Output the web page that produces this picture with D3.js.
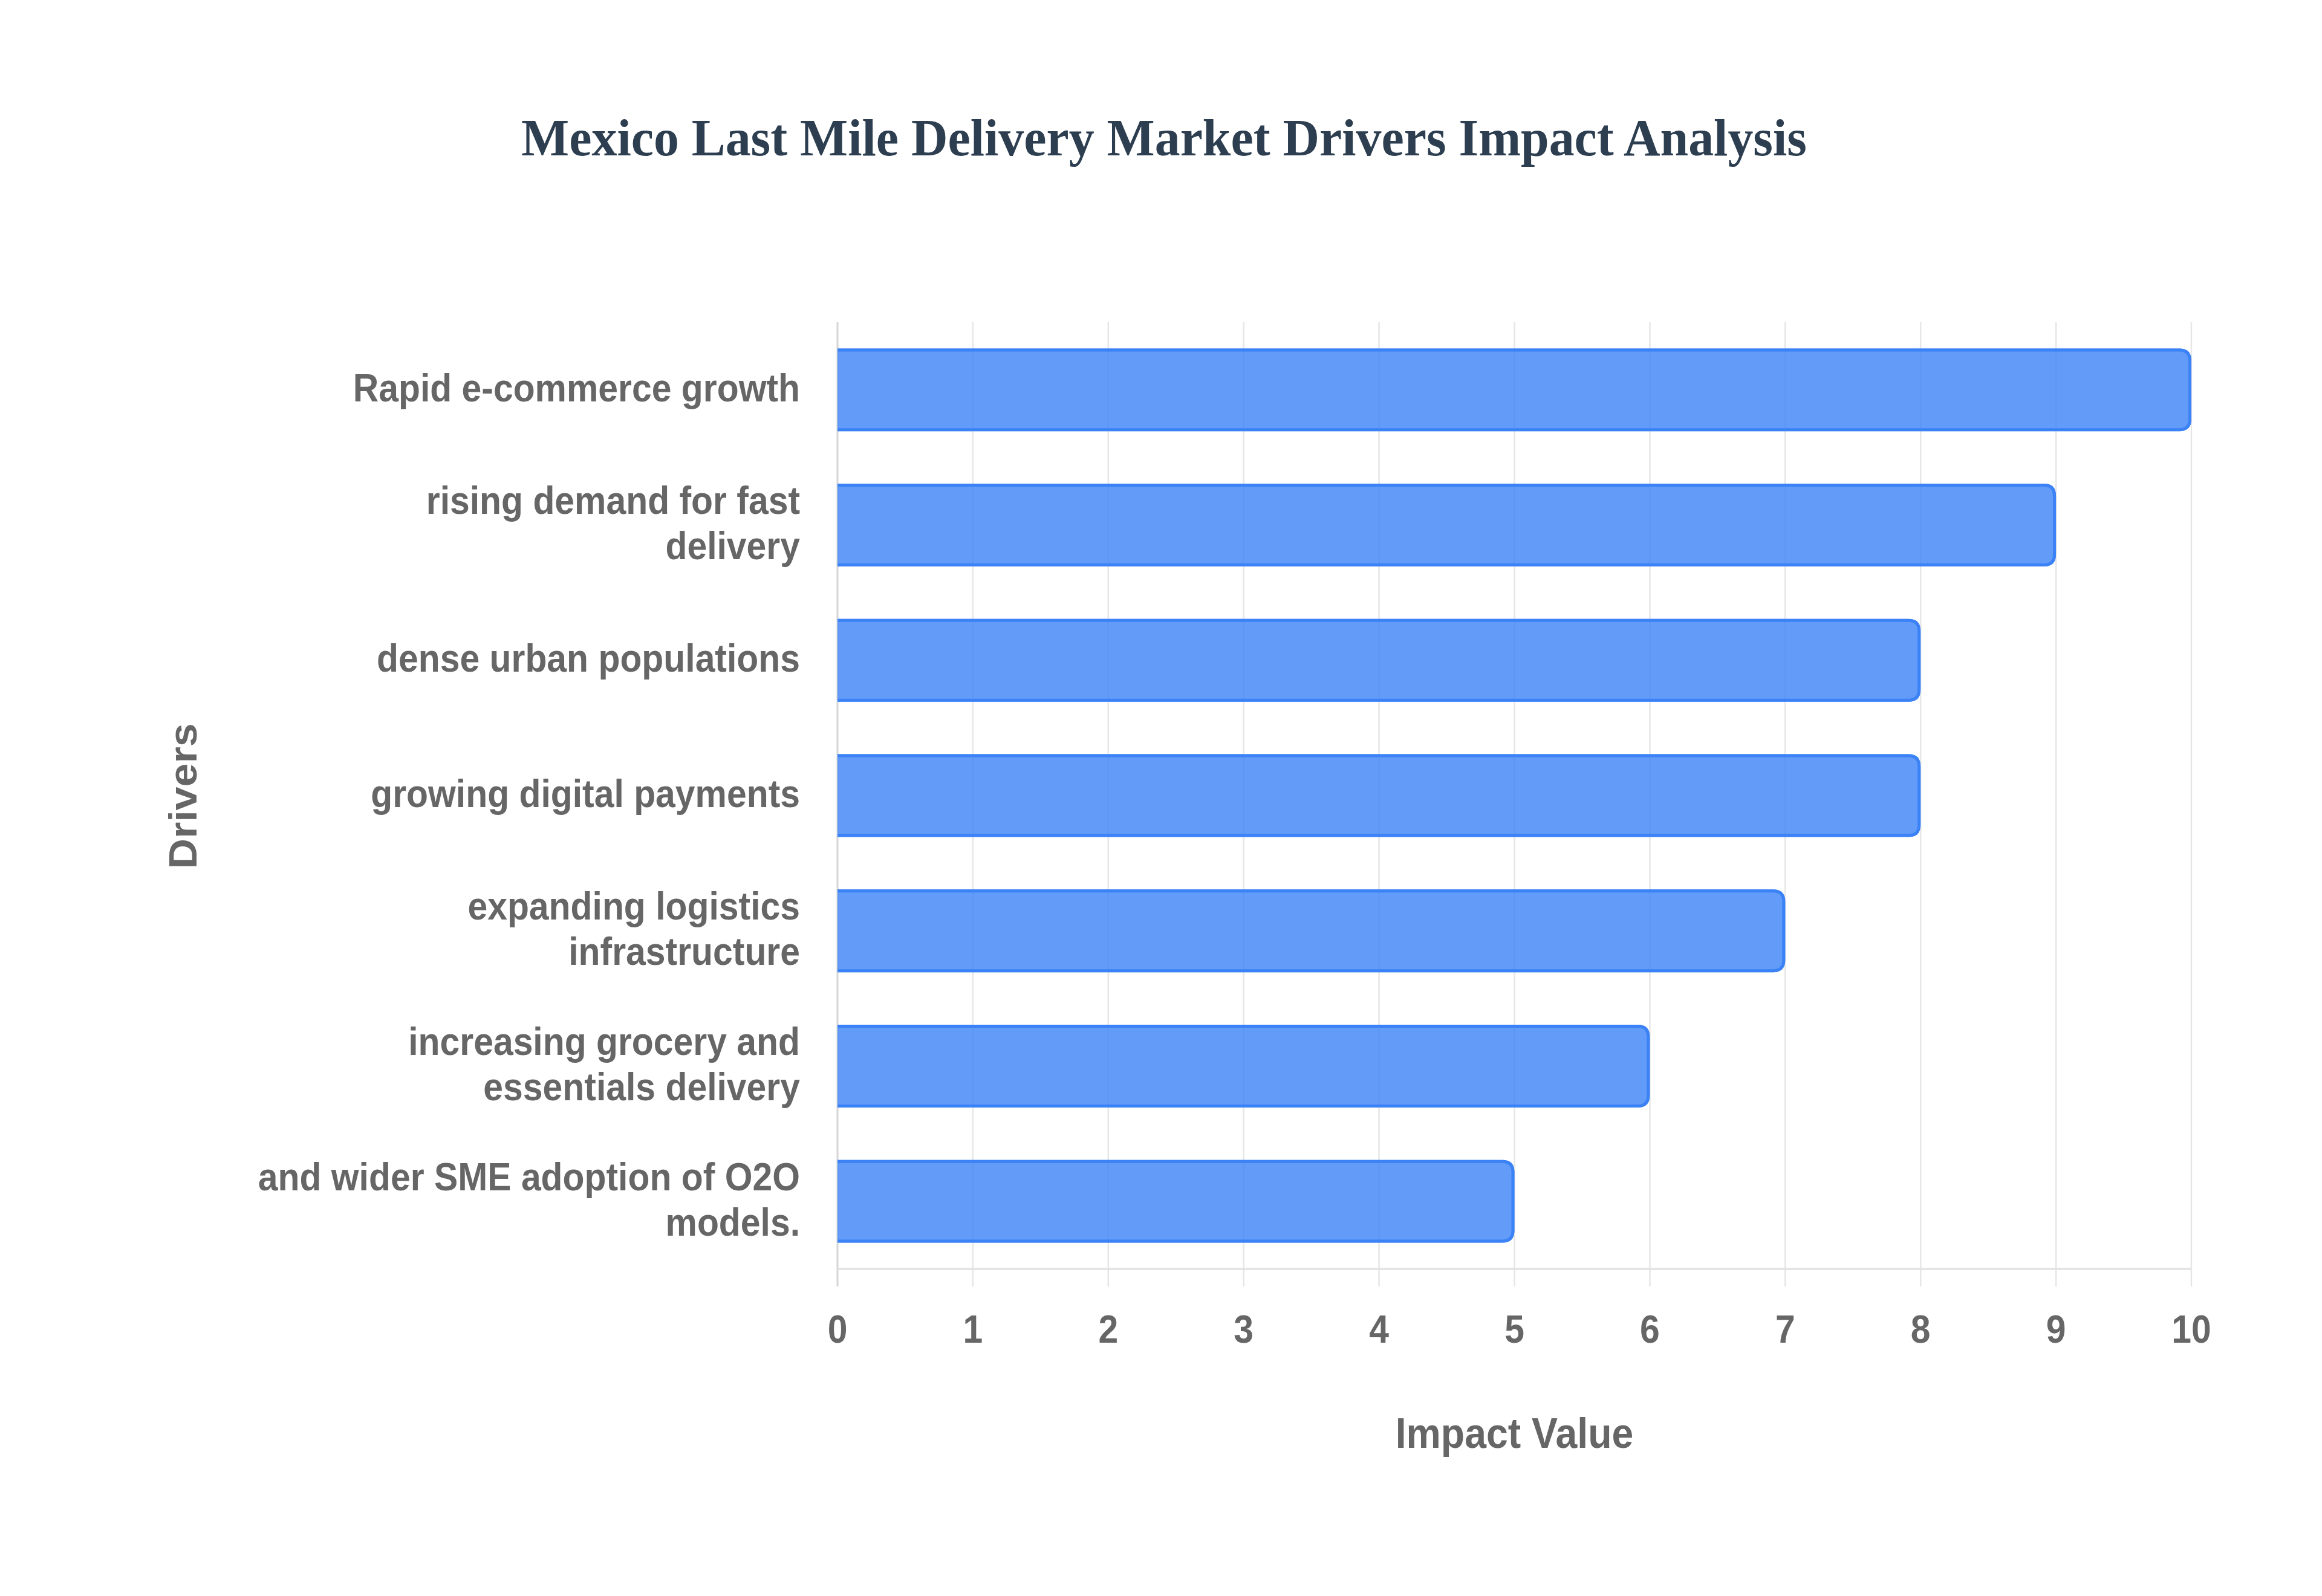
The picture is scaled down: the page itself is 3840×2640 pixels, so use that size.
<!DOCTYPE html>
<html>
<head>
<meta charset="utf-8">
<script src="https://cdn.jsdelivr.net/npm/d3@7/dist/d3.min.js"></script>
<style>
  html, body { margin: 0; padding: 0; background: #ffffff; }
  svg { display: block; }
</style>
</head>
<body>
<svg id="chart" width="3840" height="2640"></svg>
<script>
// ---- data ----
const chartTitle = "Mexico Last Mile Delivery Market Drivers Impact Analysis";
const drivers = [
  "Rapid e-commerce growth",
  "rising demand for fast delivery",
  "dense urban populations",
  "growing digital payments",
  "expanding logistics infrastructure",
  "increasing grocery and essentials delivery",
  "and wider SME adoption of O2O models."
];
const driverLabelLines = [
  ["Rapid e-commerce growth"],
  ["rising demand for fast", "delivery"],
  ["dense urban populations"],
  ["growing digital payments"],
  ["expanding logistics", "infrastructure"],
  ["increasing grocery and", "essentials delivery"],
  ["and wider SME adoption of O2O", "models."]
];
const impactValues = [10, 9, 8, 8, 7, 6, 5];
const xTickValues = [0, 1, 2, 3, 4, 5, 6, 7, 8, 9, 10];
const xAxisTitle = "Impact Value";
const yAxisTitle = "Drivers";

// ---- layout ----
const W = 3840, H = 2640;
const plot = { left: 1385, right: 3624, top: 533, bottom: 2099 };
const SQ = 0.92; // horizontal text compression seen in reference
const sans = "'Liberation Sans', Arial, Helvetica, sans-serif";
const serif = "'Liberation Serif', 'Times New Roman', Times, serif";
const textGrey = "#666666";

const svg = d3.select("#chart");
svg.append("rect").attr("width", W).attr("height", H).attr("fill", "#ffffff");

const x = d3.scaleLinear().domain([0, 10]).range([plot.left, plot.right]);
const y = d3.scaleBand().domain(drivers).range([plot.top, plot.bottom])
  .paddingInner(0.388).paddingOuter(0.194);

// gridlines (vertical), extending below axis as tick marks
const grid = svg.append("g");
grid.selectAll("line.grid").data(xTickValues).join("line")
  .attr("class", "grid")
  .attr("x1", d => x(d)).attr("x2", d => x(d))
  .attr("y1", plot.top).attr("y2", plot.bottom + 29)
  .attr("stroke", d => d === 0 ? "#d6d6d6" : "#e6e6e6")
  .attr("stroke-width", d => d === 0 ? 3 : 2.5);

// x axis baseline
svg.append("line")
  .attr("x1", plot.left).attr("x2", plot.right)
  .attr("y1", plot.bottom).attr("y2", plot.bottom)
  .attr("stroke", "#e2e2e2").attr("stroke-width", 3.5);

// bars
const r = 20, bw = 5;
function barPath(x0, x1, y0, h) {
  const rr = Math.min(r, (x1 - x0) / 2, h / 2);
  return `M${x0},${y0}H${x1 - rr}Q${x1},${y0} ${x1},${y0 + rr}V${y0 + h - rr}Q${x1},${y0 + h} ${x1 - rr},${y0 + h}H${x0}Z`;
}
const bars = svg.append("g");
bars.selectAll("path.fill").data(drivers).join("path")
  .attr("class", "fill")
  .attr("d", (d, i) => barPath(x(0), x(impactValues[i]), y(d), y.bandwidth()))
  .attr("fill", "rgba(59,130,246,0.8)");
bars.selectAll("path.border").data(drivers).join("path")
  .attr("class", "border")
  .attr("d", (d, i) => {
    const x0 = x(0), x1 = x(impactValues[i]) - bw / 2, y0 = y(d) + bw / 2, h = y.bandwidth() - bw;
    const rr = r - bw / 2;
    return `M${x0},${y0}H${x1 - rr}Q${x1},${y0} ${x1},${y0 + rr}V${y0 + h - rr}Q${x1},${y0 + h} ${x1 - rr},${y0 + h}H${x0}`;
  })
  .attr("fill", "none")
  .attr("stroke", "#3b82f6")
  .attr("stroke-width", bw);

// x tick labels
svg.append("g").selectAll("text").data(xTickValues).join("text")
  .attr("transform", d => `translate(${x(d)},2221) scale(${SQ},1)`)
  .attr("text-anchor", "middle")
  .attr("font-family", sans).attr("font-weight", "bold").attr("font-size", 64)
  .attr("fill", textGrey)
  .text(d => d);

// y category labels
const lineH = 75;
const ylab = svg.append("g").selectAll("text").data(drivers).join("text")
  .attr("transform", d => `translate(1323,${y(d) + y.bandwidth() / 2 + 19}) scale(${SQ},1)`)
  .attr("text-anchor", "end")
  .attr("font-family", sans).attr("font-weight", "bold").attr("font-size", 64)
  .attr("fill", textGrey);
ylab.each(function (d, i) {
  const lines = driverLabelLines[i];
  const n = lines.length;
  d3.select(this).selectAll("tspan").data(lines).join("tspan")
    .attr("x", 0)
    .attr("y", (l, j) => (j - (n - 1) / 2) * lineH)
    .text(l => l);
});

// axis titles
svg.append("text")
  .attr("transform", `translate(${(plot.left + plot.right) / 2},2395) scale(${SQ},1)`)
  .attr("text-anchor", "middle")
  .attr("font-family", sans).attr("font-weight", "bold").attr("font-size", 70)
  .attr("fill", textGrey)
  .text(xAxisTitle);

svg.append("text")
  .attr("transform", `translate(325,1317) rotate(-90) scale(1,${SQ})`)
  .attr("text-anchor", "middle")
  .attr("font-family", sans).attr("font-weight", "bold").attr("font-size", 70)
  .attr("fill", textGrey)
  .text(yAxisTitle);

// chart title
svg.append("text")
  .attr("transform", `translate(1925,257) scale(0.975,1)`)
  .attr("text-anchor", "middle")
  .attr("font-family", serif).attr("font-weight", "bold").attr("font-size", 86)
  .attr("fill", "#2c3e50")
  .text(chartTitle);
</script>
</body>
</html>
